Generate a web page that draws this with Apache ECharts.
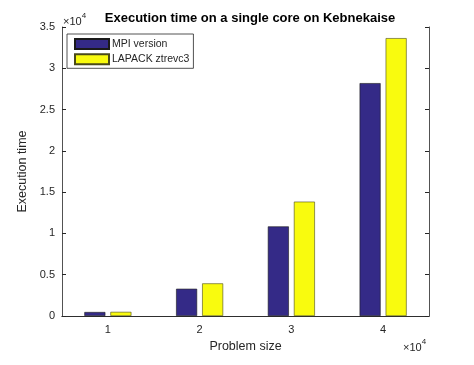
<!DOCTYPE html>
<html><head><meta charset="utf-8">
<script src="https://cdn.jsdelivr.net/npm/echarts@6/dist/echarts.min.js"></script>
<style>html,body{margin:0;padding:0;background:#fff}#c{width:474px;height:365px}</style>
</head><body><div id="c"></div>
<script>
const categories = ['1', '2', '3', '4'];
const mpiVersion = [480, 3300, 10850, 28200];
const lapackZtrevc3 = [500, 3950, 13850, 33650];
const yTicks = [0, 5000, 10000, 15000, 20000, 25000, 30000, 35000];

const axisColor = '#262626';
const font = 'Liberation Sans, Arial, sans-serif';
const chart = echarts.init(document.getElementById('c'));
const grid = {left: 62, right: 45, top: 27, bottom: 49};
const sup = {
  a: {fontFamily: font, fontSize: 11, fill: axisColor, padding: [4, 0, 0, 0]},
  b: {fontFamily: font, fontSize: 8, fill: axisColor, verticalAlign: 'top', padding: [0, 0, 6, 0]}
};
chart.setOption({
  animation: false,
  backgroundColor: '#fff',
  title: {
    text: 'Execution time on a single core on Kebnekaise',
    left: 245, textAlign: 'center', top: 7,
    textStyle: {fontFamily: font, fontSize: 13, fontWeight: 'bold', color: '#000'}
  },
  legend: {
    orient: 'vertical', left: 67, top: 34,
    padding: [4, 4, 3, 7], itemGap: 3.3,
    itemWidth: 34, itemHeight: 10,
    borderColor: axisColor, borderWidth: 0.8,
    backgroundColor: '#fff',
    icon: 'rect',
    textStyle: {fontFamily: font, fontSize: 10.5, lineHeight: 10, color: axisColor, padding: [0, 0, 0, -2]},
    data: ['MPI version', 'LAPACK ztrevc3']
  },
  grid: grid,
  xAxis: [{
    type: 'category', data: categories, position: 'bottom',
    name: 'Problem size', nameLocation: 'middle', nameGap: 24,
    nameTextStyle: {fontFamily: font, fontSize: 12.5, color: axisColor},
    axisLine: {lineStyle: {color: axisColor, width: 0.8}},
    axisTick: {inside: true, alignWithLabel: true, length: 4, lineStyle: {color: axisColor}},
    axisLabel: {fontFamily: font, fontSize: 11, color: axisColor, margin: 8}
  }, {
    type: 'category', data: categories, position: 'top',
    axisLine: {lineStyle: {color: axisColor, width: 0.8}},
    axisTick: {inside: true, alignWithLabel: true, length: 4, lineStyle: {color: axisColor}},
    axisLabel: {show: false}
  }],
  yAxis: [{
    type: 'value', min: 0, max: 35000, interval: 5000, position: 'left',
    name: 'Execution time', nameLocation: 'middle', nameGap: 30,
    nameTextStyle: {fontFamily: font, fontSize: 12.5, color: axisColor},
    axisLine: {show: true, lineStyle: {color: axisColor, width: 0.8}},
    axisTick: {show: true, inside: true, length: 4, lineStyle: {color: axisColor}},
    splitLine: {show: false},
    axisLabel: {fontFamily: font, fontSize: 11, color: axisColor, margin: 7,
      formatter: v => yTicks.includes(v) ? String(v / 10000) : ''}
  }, {
    type: 'value', min: 0, max: 35000, interval: 5000, position: 'right',
    axisLine: {show: true, lineStyle: {color: axisColor, width: 0.8}},
    axisTick: {show: true, inside: true, length: 4, lineStyle: {color: axisColor}},
    splitLine: {show: false}, axisLabel: {show: false}
  }],
  series: [{
    name: 'MPI version', type: 'bar', data: mpiVersion,
    barWidth: 21, barGap: '24%',
    itemStyle: {color: '#342a87', borderColor: '#1a1a1a', borderWidth: 0.6}
  }, {
    name: 'LAPACK ztrevc3', type: 'bar', data: lapackZtrevc3,
    barWidth: 21, barGap: '24%',
    itemStyle: {color: '#f9fb0e', borderColor: '#4a4a1a', borderWidth: 0.6}
  }],
  graphic: [{
    type: 'text', left: 63, top: 12,
    style: {text: '{a|×10}{b|4}', rich: sup}
  }, {
    type: 'text', left: 403, top: 338,
    style: {text: '{a|×10}{b|4}', rich: sup}
  }]
});
</script></body></html>
